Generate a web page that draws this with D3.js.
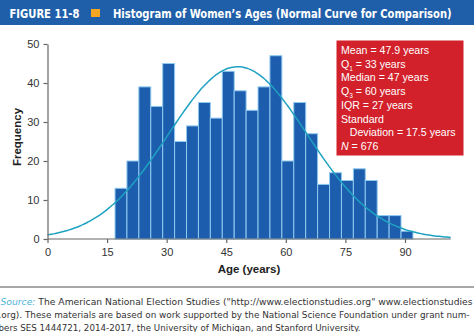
<!DOCTYPE html>
<html>
<head>
<meta charset="utf-8">
<script src="https://cdn.jsdelivr.net/npm/d3@7"></script>
<style>
  body { margin: 0; background: #fff; }
  svg { display: block; }
</style>
</head>
<body>
<script>
/* CONSTANTS AND GLOBALS */
const width = 474,
  height = 332;

// histogram bins: 3-year bins starting at age 17
const binStart = 17;
const binWidth = 3;
const counts = [13, 20, 39, 34, 45, 25, 29, 35, 31, 43, 38, 33, 39, 47, 20, 35, 27, 14, 17, 15, 18, 15, 6, 6, 2];

const xTicks = [0, 15, 30, 45, 60, 75, 90];
const yTicks = [0, 10, 20, 30, 40, 50];

// summary statistics shown in the box
const meanAge = 47.9;
const sdAge = 17.5;
const statLines = [
  ["Mean = 47.9 years"],
  ["Q", "1", " = 33 years"],
  ["Median = 47 years"],
  ["Q", "3", " = 60 years"],
  ["IQR = 27 years"],
  ["Standard"],
  ["   Deviation = 17.5 years"],
  ["N", "", " = 676"]
];

const footerLines = [
  "The American National Election Studies (\"http://www.electionstudies.org\" www.electionstudies",
  ".org). These materials are based on work supported by the National Science Foundation under grant num-",
  "bers SES 1444721, 2014-2017, the University of Michigan, and Stanford University."
];

const svg = d3.select("body")
  .append("svg")
  .attr("width", width)
  .attr("height", height);

/* TITLE BAR */
svg.append("rect")
  .attr("x", 0).attr("y", 0)
  .attr("width", width).attr("height", 25)
  .attr("fill", "#1f5fa9");

// squeeze a bold text horizontally so it fills the given width
function titleText(str, x, w) {
  const t = svg.append("text")
    .attr("font-family", "'DejaVu Sans Condensed', Roboto, sans-serif")
    .attr("font-weight", "bold")
    .attr("font-size", 12.5)
    .attr("fill", "#fff")
    .text(str);
  const natural = t.node().getComputedTextLength();
  t.attr("transform", `translate(${x}, 17.5) scale(${w / natural}, 1)`);
}

titleText("FIGURE 11-8", 9.5, 70);

svg.append("rect")
  .attr("x", 91).attr("y", 9)
  .attr("width", 9).attr("height", 8)
  .attr("fill", "#f6a520");

titleText("Histogram of Women’s Ages (Normal Curve for Comparison)", 113, 339);

/* SCALES */
const xScale = d3.scaleLinear()
  .domain([0, 90])
  .range([47.5, 405]);

const yScale = d3.scaleLinear()
  .domain([0, 50])
  .range([239, 44]);

const bins = counts.map((c, i) => ({
  x0: binStart + i * binWidth,
  x1: binStart + (i + 1) * binWidth,
  count: c
}));

// bars
svg.append("g")
  .selectAll("rect")
  .data(bins)
  .join("rect")
  .attr("x", d => xScale(d.x0))
  .attr("y", d => yScale(d.count))
  .attr("width", d => xScale(d.x1) - xScale(d.x0))
  .attr("height", d => yScale(0) - yScale(d.count))
  .attr("fill", "#1c5dad")
  .attr("stroke", "#8fcaf0")
  .attr("stroke-width", 1);

// normal curve scaled to the histogram total
const total = d3.sum(counts);
const curveScale = total * binWidth / (sdAge * Math.sqrt(2 * Math.PI));
const curveData = d3.range(0, 101.6, 0.5).map(a => ({
  age: a,
  freq: curveScale * Math.exp(-0.5 * Math.pow((a - meanAge) / sdAge, 2))
}));

svg.append("path")
  .datum(curveData)
  .attr("fill", "none")
  .attr("stroke", "#1fa2c2")
  .attr("stroke-width", 1.5)
  .attr("d", d3.line()
    .x(d => xScale(d.age))
    .y(d => yScale(d.freq))
    .curve(d3.curveBasis));

/* AXES */
const xAxis = svg.append("g")
  .attr("transform", `translate(0, ${yScale(0)})`)
  .call(d3.axisBottom(xScale).tickValues(xTicks).tickSize(4).tickPadding(5).tickSizeOuter(0));

// extend the baseline past 90 to the end of the curve
xAxis.select(".domain")
  .attr("d", `M${xScale(0)},0H${xScale(101.5)}`);

const yAxis = svg.append("g")
  .attr("transform", `translate(${xScale(0)}, 0)`)
  .call(d3.axisLeft(yScale).tickValues(yTicks).tickSize(4).tickPadding(4).tickSizeOuter(0));

[xAxis, yAxis].forEach(ax => {
  ax.select(".domain").attr("stroke", "#666").attr("stroke-width", 1.2);
  ax.selectAll(".tick line").attr("stroke", "#666").attr("stroke-width", 1.2);
  ax.selectAll(".tick text")
    .attr("font-family", "'Liberation Sans', Arial, sans-serif")
    .attr("font-size", 11)
    .attr("fill", "#333");
});

// axis labels
svg.append("text")
  .attr("x", 249)
  .attr("y", 273)
  .attr("text-anchor", "middle")
  .attr("font-family", "'Liberation Sans', Arial, sans-serif")
  .attr("font-weight", "bold")
  .attr("font-size", 11.5)
  .attr("fill", "#222")
  .text("Age (years)");

svg.append("text")
  .attr("x", -137)
  .attr("y", 21)
  .attr("transform", "rotate(-90)")
  .attr("text-anchor", "middle")
  .attr("font-family", "'Liberation Sans', Arial, sans-serif")
  .attr("font-weight", "bold")
  .attr("font-size", 11.5)
  .attr("fill", "#222")
  .text("Frequency");

/* STATISTICS BOX */
svg.append("rect")
  .attr("x", 336.5).attr("y", 40.5)
  .attr("width", 127).attr("height", 115)
  .attr("fill", "#d2212b");

const statText = svg.append("g")
  .attr("font-family", "'Liberation Sans', Arial, sans-serif")
  .attr("font-size", 10.6)
  .attr("fill", "#fff");

statLines.forEach((parts, i) => {
  const t = statText.append("text")
    .attr("x", 341)
    .attr("y", 54 + i * 13.7)
    .attr("xml:space", "preserve");
  if (parts.length === 1) {
    t.text(parts[0]);
  } else {
    const main = t.append("tspan").text(parts[0]);
    if (parts[0] === "N") main.attr("font-style", "italic");
    if (parts[1]) {
      t.append("tspan").attr("font-size", 6.5).attr("dy", 3).text(parts[1]);
      t.append("tspan").attr("dy", -3).text(parts[2]);
    } else {
      t.append("tspan").text(parts[2]);
    }
  }
});

/* SOURCE NOTE */
svg.append("line")
  .attr("x1", 0).attr("x2", width)
  .attr("y1", 287).attr("y2", 287)
  .attr("stroke", "#8a8a8a")
  .attr("stroke-width", 1.5);

const footer = svg.append("g")
  .attr("font-family", "'DejaVu Sans Condensed', Roboto, sans-serif")
  .attr("font-size", 9.5)
  .attr("fill", "#333");

const noteWidths = [472, 471, 362];
footerLines.forEach((line, i) => {
  const t = footer.append("text")
    .attr("x", i === 0 ? 0.5 : -1.5)
    .attr("y", 304.5 + i * 13.3)
    .attr("textLength", noteWidths[i])
    .attr("lengthAdjust", "spacingAndGlyphs");
  if (i === 0) {
    t.append("tspan")
      .attr("font-style", "italic")
      .attr("fill", "#4bb3d6")
      .text("Source:");
    t.append("tspan").text(" " + line);
  } else {
    t.text(line);
  }
});
</script>
</body>
</html>
